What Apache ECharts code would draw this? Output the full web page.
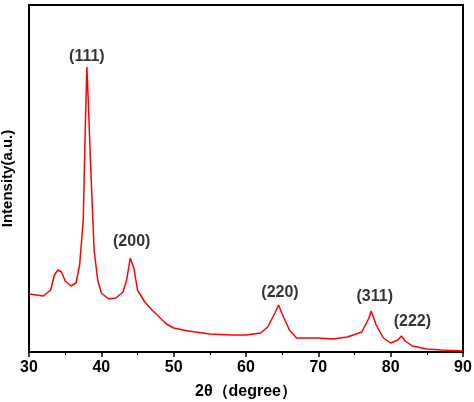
<!DOCTYPE html><html><head><meta charset="utf-8"><script src="https://cdn.jsdelivr.net/npm/echarts@6/dist/echarts.min.js"></script></head><body style="margin:0"><div id="c" style="width:474px;height:402px"></div><script>
const theta=[30,31,32,33,33.5,34,34.5,35,35.8,36.5,37,37.5,37.8,38,38.2,38.5,39,39.5,40,41,42,43,43.5,44,44.5,45,46,47,48,49,50,52,55,58,60,62,63,64,64.5,65,66,67,70,72,74,76,77,77.3,78,79,80,81,81.5,82,83,85,87,90];
const intensity=[58,57,56,62,77,82,80,71,66,69,87,132,230,285,250,190,102,72,59,53,54,60,72,94,84,62,50,42,35,28,24,21,18,17,17,19,25,39,47,38,22,14,14,13,15,20,34,41,27,14,9,12,16,11,6,3,2,1];
const peakLabels=['(111)','(200)','(220)','(311)','(222)'];
const labelX=[38,44.2,64.7,77.8,83];
const labelY=[295,110,59,55,30];
const c=echarts.init(document.getElementById('c'));
const F='Liberation Sans';
c.setOption({animation:false,
grid:{left:29,right:11,top:5,bottom:50,containLabel:false,outerBoundsMode:'none'},
xAxis:{type:'value',min:30,max:90,interval:10,
 axisLine:{lineStyle:{color:'#000',width:2}},axisTick:{inside:false,length:5,lineStyle:{width:1.5}},
 minorTick:{show:true,splitNumber:2,length:3,lineStyle:{color:'#000'}},splitLine:{show:false},
 axisLabel:{color:'#000',fontWeight:'bold',fontSize:16,fontFamily:F,margin:8},
 name:'2θ（degree）',nameLocation:'middle',nameGap:32,nameTextStyle:{color:'#000',fontWeight:'bold',fontSize:16,fontFamily:F}},
yAxis:{type:'value',min:0,max:347,axisLabel:{show:false},axisTick:{show:false},splitLine:{show:false},
 axisLine:{show:true,lineStyle:{color:'#000',width:2}},
 name:'Intensity(a.u.)',nameLocation:'middle',nameGap:14,nameTextStyle:{color:'#000',fontWeight:'bold',fontSize:15,fontFamily:F}},
graphic:[{type:'rect',shape:{x:29,y:5,width:434,height:347},style:{fill:'none',stroke:'#000',lineWidth:2}}],
series:[{type:'line',data:theta.map((t,i)=>[t,intensity[i]]),showSymbol:false,lineStyle:{color:'#ff0000',width:1.5}},
{type:'scatter',symbolSize:0,data:labelX.map((x,i)=>[x,labelY[i]]),label:{show:true,position:'inside',formatter:p=>peakLabels[p.dataIndex],color:'#000',textBorderWidth:0,fontWeight:'bold',fontSize:16,fontFamily:F}}]});
</script></body></html>
